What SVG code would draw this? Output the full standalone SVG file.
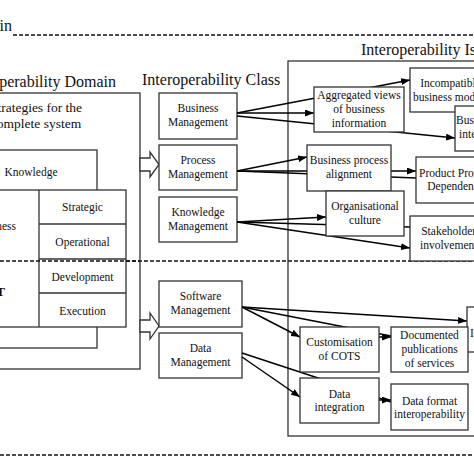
<svg xmlns="http://www.w3.org/2000/svg" width="474" height="474" viewBox="0 0 474 474">
<defs>
<marker id="ah" markerUnits="userSpaceOnUse" markerWidth="9" markerHeight="7" refX="9" refY="3.5" orient="auto"><path d="M0,0 L9,3.5 L0,7 z" fill="#000"/></marker>
<style>
text{font-family:"Liberation Serif","DejaVu Serif",serif;fill:#111}
.t{font-size:16px}
.l{font-size:11.5px;text-anchor:middle}
.s{font-size:13.5px}
.b{fill:#fff;stroke:#333;stroke-width:1.3}
.n{fill:none;stroke:#333;stroke-width:1.3}
.d{fill:none;stroke:#111;stroke-width:1.5;stroke-dasharray:4 2}
.c{fill:none;stroke:#000;stroke-width:1.5}
.a{marker-end:url(#ah)}
</style>
</defs>
<rect width="474" height="474" fill="#fff"/>
<g id="titles">
<text class="t" x="12" y="31" text-anchor="end">Domain</text>
<text class="t" x="116" y="87" text-anchor="end">Interoperability Domain</text>
<text class="t" x="142" y="85">Interoperability Class</text>
<text class="t" x="361" y="55">Interoperability Issues</text>
</g>
<g id="dashed-lines">
<line class="d" x1="13" y1="35" x2="474" y2="35"/>
<line class="d" x1="0" y1="261" x2="474" y2="261"/>
<line class="d" x1="0" y1="455" x2="474" y2="455"/>
</g>
<g id="domain">
<rect class="n" x="-60" y="93" width="200" height="276"/>
<text class="s" x="36" y="112" text-anchor="middle">Strategies for the</text>
<text class="s" x="36" y="128" text-anchor="middle">complete system</text>
<rect class="n" x="-50" y="150" width="147" height="198"/>
<text class="l" x="31" y="176">Knowledge</text>
<rect class="b" x="-48" y="190" width="174" height="137"/>
<line class="n" x1="39" y1="190" x2="39" y2="327"/>
<line class="n" x1="39" y1="224" x2="126" y2="224"/>
<line class="n" x1="39" y1="259" x2="126" y2="259"/>
<line class="n" x1="39" y1="293" x2="126" y2="293"/>
<line class="d" x1="0" y1="261" x2="140" y2="261"/>
<text class="l" x="16" y="230" style="text-anchor:end">Business</text>
<text x="5" y="296" style="font-size:13.5px;font-weight:bold;text-anchor:end">IT</text>
<text class="l" x="82.5" y="211">Strategic</text>
<text class="l" x="82.5" y="246">Operational</text>
<text class="l" x="82.5" y="281">Development</text>
<text class="l" x="82.5" y="315">Execution</text>
</g>
<g id="block-arrows">
<polygon class="b" points="140,158 150,158 150,152 159,164.5 150,177 150,171 140,171"/>
<polygon class="b" points="140,320 150,320 150,313 159,326 150,339 150,332 140,332"/>
</g>
<g id="class-business-management"><rect class="b" x="159" y="93" width="78" height="46"/><text class="l" x="198" y="112">Business</text><text class="l" x="198" y="126">Management</text></g>
<g id="class-process-management"><rect class="b" x="159" y="145" width="78" height="45"/><text class="l" x="198" y="164">Process</text><text class="l" x="198" y="178">Management</text></g>
<g id="class-knowledge-management"><rect class="b" x="159" y="197" width="78" height="45"/><text class="l" x="198" y="215.5">Knowledge</text><text class="l" x="198" y="229.5">Management</text></g>
<g id="class-software-management"><rect class="b" x="159" y="281" width="83" height="46"/><text class="l" x="200.5" y="300">Software</text><text class="l" x="200.5" y="314">Management</text></g>
<g id="class-data-management"><rect class="b" x="159" y="333" width="83" height="45"/><text class="l" x="200.5" y="351.5">Data</text><text class="l" x="200.5" y="365.5">Management</text></g>
<g id="issues-frame"><rect class="n" x="288" y="61" width="200" height="375"/></g>
<g id="connectors">
<line class="c a" x1="237" y1="113" x2="410" y2="80"/>
<line class="c a" x1="237" y1="113" x2="314" y2="113"/>
<line class="c a" x1="237" y1="116" x2="455" y2="138"/>
<line class="c a" x1="237" y1="171" x2="307" y2="157"/>
<line class="c a" x1="237" y1="171" x2="416" y2="171"/>
<line class="c" x1="237" y1="171" x2="416" y2="178"/>
<line class="c a" x1="237" y1="222" x2="326" y2="217"/>
<line class="c" x1="237" y1="222" x2="410" y2="227"/>
<line class="c a" x1="237" y1="222" x2="410" y2="248"/>
<line class="c a" x1="242" y1="307" x2="300" y2="337"/>
<line class="c" x1="242" y1="307" x2="391" y2="336"/>
<line class="c a" x1="242" y1="307" x2="467" y2="321"/>
<line class="c" x1="242" y1="353" x2="391" y2="402"/>
<line class="c a" x1="242" y1="357" x2="300" y2="397"/>
<line class="c a" x1="379" y1="337" x2="391" y2="337"/>
<line class="c a" x1="379" y1="400" x2="391" y2="400"/>
</g>
<g id="issue-aggregated-views"><rect class="b" x="314" y="87" width="90" height="45"/><text class="l" x="359" y="99">Aggregated views</text><text class="l" x="359" y="113">of business</text><text class="l" x="359" y="127">information</text></g>
<g id="issue-incompatible-business-models"><rect class="b" x="410" y="68" width="82" height="44"/><text class="l" x="450.5" y="87">Incompatible</text><text class="l" x="450.5" y="101">business models</text></g>
<g id="issue-business-interfaces"><rect class="b" x="455" y="106" width="60" height="45"/><text x="456" y="124" style="font-size:11.5px">Business</text><text x="459" y="138" style="font-size:11.5px">interfaces</text></g>
<g id="issue-business-process-alignment"><rect class="b" x="307" y="145" width="84" height="46"/><text class="l" x="349" y="164">Business process</text><text class="l" x="349" y="178">alignment</text></g>
<g id="issue-product-process-dependency"><rect class="b" x="416" y="157" width="84" height="46"/><text class="l" x="456" y="177">Product Process</text><text class="l" x="456" y="190">Dependency</text></g>
<g id="issue-organisational-culture"><rect class="b" x="326" y="191" width="78" height="45"/><text class="l" x="365" y="210">Organisational</text><text class="l" x="365" y="224">culture</text></g>
<g id="issue-stakeholder-involvement"><rect class="b" x="410" y="216" width="80" height="45"/><text class="l" x="448.7" y="235">Stakeholder</text><text class="l" x="448.7" y="249">involvement</text></g>
<g id="issue-i"><rect class="b" x="467" y="307" width="60" height="45"/><text x="470" y="337" style="font-size:11.5px">Interfaces</text></g>
<g id="issue-customisation-of-cots"><rect class="b" x="300" y="327" width="79" height="45"/><text class="l" x="339.5" y="346">Customisation</text><text class="l" x="339.5" y="360">of COTS</text></g>
<g id="issue-documented-publications"><rect class="b" x="391" y="327" width="77" height="45"/><text class="l" x="429.5" y="339">Documented</text><text class="l" x="429.5" y="353">publications</text><text class="l" x="429.5" y="367">of services</text></g>
<g id="issue-data-integration"><rect class="b" x="300" y="378" width="79" height="45"/><text class="l" x="339.5" y="398">Data</text><text class="l" x="339.5" y="411">integration</text></g>
<g id="issue-data-format-interoperability"><rect class="b" x="391" y="384" width="77" height="46"/><text class="l" x="429.5" y="405">Data format</text><text class="l" x="429.5" y="418">interoperability</text></g>
</svg>
